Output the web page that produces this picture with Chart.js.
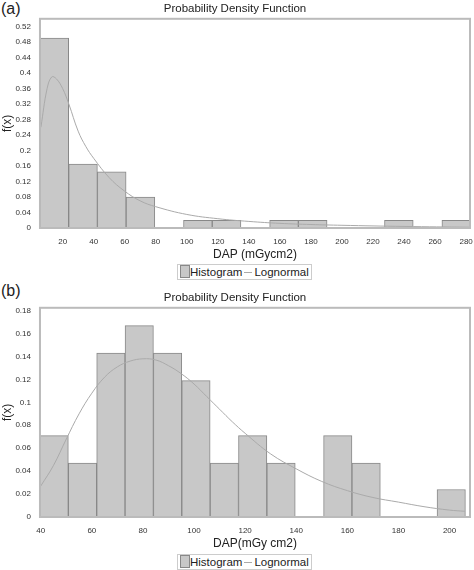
<!DOCTYPE html>
<html><head><meta charset="utf-8">
<script src="https://cdn.jsdelivr.net/npm/chart.js@4/dist/chart.umd.min.js"></script>
<style>
body{margin:0;background:#fff;font-family:Arial,"Liberation Sans",sans-serif;}
.wrap{position:absolute;left:0;width:474px;}
.lab{position:absolute;left:1px;font-size:16px;color:#222;}
.leg{position:absolute;font-size:11.5px;color:#222;border:1px solid #ccc;padding:0 2px;line-height:14px;white-space:nowrap;}
.leg .sw{display:inline-block;width:8px;height:11px;background:#c8c8c8;border:1px solid #888;vertical-align:-2px;}
.leg .ln{display:inline-block;width:8px;height:1px;background:#aaa;vertical-align:3px;margin:0 2px;}
</style></head><body>
<div class="lab" style="top:0">(a)</div>
<div class="wrap" style="top:0;height:262px"><canvas id="ca"></canvas></div>
<div class="leg" style="left:177px;top:264px"><span class="sw"></span>Histogram<span class="ln"></span>Lognormal</div>
<div class="lab" style="top:282px">(b)</div>
<div class="wrap" style="top:289px;height:262px"><canvas id="cb"></canvas></div>
<div class="leg" style="left:177px;top:554px"><span class="sw"></span>Histogram<span class="ln"></span>Lognormal</div>
<script>
// Chart (a)
const binStartA = 5.4, binWidthA = 18.5;
const histA = [0.49,0.165,0.145,0.08,0,0.02,0.02,0,0.02,0.02,0,0,0.02,0,0.02];
const curveAx = [6,10,13,16,20,24,30,35,40,50,60,70,80,100,120,140,160,180,200,240,282];
const curveAy = [0.26,0.36,0.39,0.385,0.36,0.32,0.25,0.21,0.18,0.13,0.095,0.07,0.055,0.035,0.024,0.017,0.012,0.009,0.007,0.004,0.002];
const xTicksA = [20,40,60,80,100,120,140,160,180,200,220,240,260,280];
// Chart (b)
const binStartB = 39.7, binWidthB = 11.1;
const histB = [0.071,0.047,0.143,0.167,0.143,0.119,0.047,0.071,0.047,0,0.071,0.047,0,0,0.024];
const curveBx = [40,45,50,55,60,65,70,75,80,85,90,95,100,105,110,115,120,130,140,150,160,170,180,190,200,206];
const curveBy = [0.027,0.045,0.068,0.09,0.108,0.122,0.131,0.136,0.138,0.137,0.132,0.125,0.116,0.105,0.094,0.083,0.073,0.055,0.042,0.031,0.023,0.017,0.013,0.009,0.006,0.005];
const xTicksB = [40,60,80,100,120,140,160,180,200];

function make(id, start, w, hist, cx, cy, xmin, xmax, ymax, ystep, xticks, xtitle){
  const bars = hist.map((v,i)=>({x:start+w*(i+0.5), y:v}));
  const line = cx.map((x,i)=>({x:x,y:cy[i]}));
  const tickFont = {size:8, family:'Arial'};
  return new Chart(document.getElementById(id),{
    data:{datasets:[
      {type:'line',data:line,borderColor:'#aaa',borderWidth:1,pointRadius:0,tension:0.4,order:0},
      {type:'bar',data:bars,backgroundColor:'#c8c8c8',borderColor:'#888',borderWidth:1,barPercentage:1,categoryPercentage:1,grouped:false,order:1}
    ]},
    options:{responsive:true,maintainAspectRatio:false,animation:false,
      layout:{padding:{left:0,right:4,top:0,bottom:0}},
      plugins:{legend:{display:false},tooltip:{enabled:false},
        title:{display:true,text:'Probability Density Function',color:'#222',font:{size:11.5,weight:'normal',family:'Arial'},padding:{top:2,bottom:3}}},
      scales:{
        x:{type:'linear',offset:false,min:xmin,max:xmax,grid:{display:false,drawTicks:true,offset:false},border:{color:'#bbb',width:1},
          afterBuildTicks:a=>{a.ticks=xticks.map(v=>({value:v}));},
          ticks:{color:'#333',font:tickFont,maxRotation:0,autoSkip:false,padding:1},
          title:{display:true,text:xtitle,color:'#222',font:{size:12,family:'Arial'},padding:{top:0,bottom:0}}},
        y:{min:0,max:ymax,grid:{display:false},border:{color:'#bbb',width:1},
          afterBuildTicks:a=>{const t=[];for(let i=0;i*ystep<=ymax+1e-9;i++){t.push({value:+(i*ystep).toFixed(3)});}a.ticks=t;},
          ticks:{color:'#333',font:tickFont,padding:1,callback:v=>String(+v.toFixed(2))},
          title:{display:true,text:'f(x)',color:'#222',font:{size:12,family:'Arial'},padding:{top:0,bottom:0}}}
      }
    },
    plugins:[{id:'frame',afterDraw(c){const a=c.chartArea,x=c.ctx;x.save();x.strokeStyle='#bbb';x.lineWidth=2;x.strokeRect(a.left,a.top,a.right-a.left,a.bottom-a.top);x.restore();}}]
  });
}
make('ca',binStartA,binWidthA,histA,curveAx,curveAy,5.4,282.5,0.54,0.04,xTicksA,'DAP (mGycm2)');
make('cb',binStartB,binWidthB,histB,curveBx,curveBy,39.7,208,0.1825,0.02,xTicksB,'DAP(mGy cm2)');
</script>
</body></html>
